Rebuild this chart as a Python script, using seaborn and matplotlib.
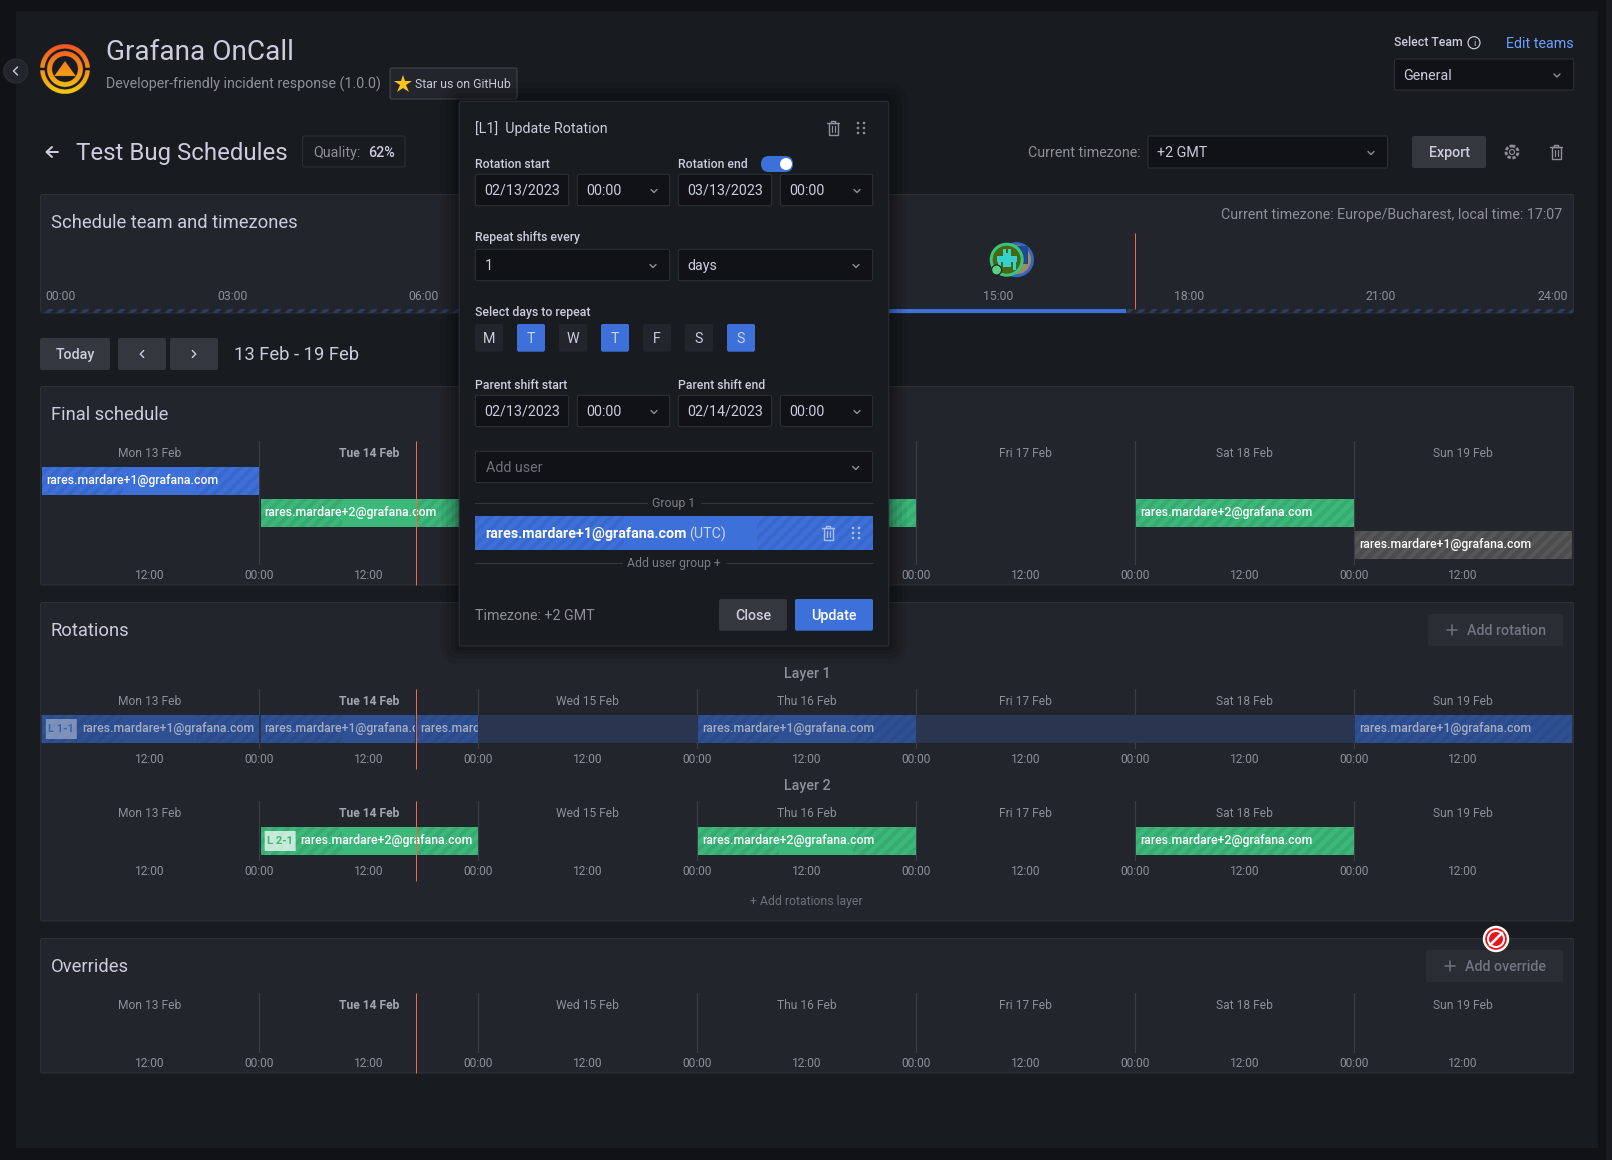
# Grafana OnCall schedule page, rebuilt with seaborn timelines
import numpy as np
import matplotlib
matplotlib.use("Agg")
import matplotlib.pyplot as plt
from matplotlib.patches import FancyBboxPatch, Circle, Rectangle
import seaborn as sns

# Week timeline data
DAY_LABELS = ["Mon 13 Feb", "Tue 14 Feb", "Wed 15 Feb", "Thu 16 Feb", "Fri 17 Feb", "Sat 18 Feb", "Sun 19 Feb"]
TODAY_INDEX = 1
NOW_DAY = 1.713
WEEK_TICKS = [0.5, 1, 1.5, 2, 2.5, 3, 3.5, 4, 4.5, 5, 5.5, 6, 6.5]
WEEK_TICK_LABELS = ["12:00", "00:00"] * 6 + ["12:00"]
USER_1 = "rares.mardare+1@grafana.com"
USER_2 = "rares.mardare+2@grafana.com"

FINAL_STARTS = [0, 1, 3, 5, 6]
FINAL_ENDS = [1, 2, 4, 6, 7]
FINAL_ROWS = [0, 1, 1, 1, 2]
FINAL_USERS = [USER_1, USER_2, USER_2, USER_2, USER_1]
FINAL_KINDS = ["blue", "green", "green", "green", "gray"]

LAYER1_STARTS = [0, 1, 1.713, 3, 6]
LAYER1_ENDS = [1, 1.713, 2, 4, 7]
LAYER2_STARTS = [1, 3, 5]
LAYER2_ENDS = [2, 4, 6]

# Timezone strip data
HOUR_TICKS = [0, 3, 6, 9, 12, 15, 18, 21, 24]
HOUR_LABELS = ["00:00", "03:00", "06:00", "09:00", "12:00", "15:00", "18:00", "21:00", "24:00"]
NOW_HOUR = 17.14
ONCALL_START = 8
ONCALL_END = 17

# Rotation form data
WEEKDAY_LETTERS = ["M", "T", "W", "T", "F", "S", "S"]
WEEKDAY_ACTIVE = [False, True, False, True, False, False, True]

W, H = 1612, 1160
DAY_PX = 218.9
TL_LEFT, TL_RIGHT = 40.6, 1572.6
HATCH = "////"

BG_OUTER = "#101216"
BG_MAIN = "#181b1f"
BG_PANEL = "#22252b"
BORDER = "#2e3137"
INPUT_BG = "#111217"
BUTTON = "#34373d"
TEXT = "#ccccdc"
MUTED = "#8e8f99"
BLUE = "#3d71d9"
GREEN = "#3cb87a"
NOW_COLOR = "#ee6a45"
GRID = "#3a3d44"
BAR_STYLE = {
    "blue": (BLUE, "#3868cb"),
    "green": (GREEN, "#37aa71"),
    "gray": ("#4c4c4c", "#575757"),
    "dim": ("#2f5194", "#2c4b8a"),
}

sns.set_theme(style="dark", rc={"hatch.linewidth": 2, "axes.grid": False})
plt.rcParams["font.family"] = ["Roboto", "DejaVu Sans"]

fig = plt.figure(figsize=(W / 144, H / 144), dpi=144, facecolor=BG_OUTER)


def overlay_axes(zorder):
    ax = fig.add_axes([0, 0, 1, 1], zorder=zorder)
    ax.set_xlim(0, W)
    ax.set_ylim(H, 0)
    ax.axis("off")
    return ax


def box(ax, x0, y0, x1, y1, fc, ec="none", r=2, lw=0.5, **kw):
    patch = FancyBboxPatch((x0, y0), x1 - x0, y1 - y0, boxstyle=f"round,pad=0,rounding_size={r}",
                           fc=fc, ec=ec, lw=lw, **kw)
    ax.add_patch(patch)
    return patch


def label(ax, x, y, s, px=14, color=TEXT, weight="normal", ha="left", **kw):
    # small text renders a touch narrower here than in the browser
    size = px * 0.51 if px < 20 else px * 0.5
    return ax.text(x, y - 0.8, s, fontsize=size, color=color, fontweight=weight, ha=ha, va="center_baseline", **kw)


def chevron(ax, x, y, size=3, color=MUTED, direction="down"):
    if direction == "down":
        xs, ys = [x - size, x, x + size], [y - size / 2, y + size / 2, y - size / 2]
    elif direction == "left":
        xs, ys = [x + size / 2, x - size / 2, x + size / 2], [y - size, y, y + size]
    else:
        xs, ys = [x - size / 2, x + size / 2, x - size / 2], [y - size, y, y + size]
    ax.plot(xs, ys, color=color, lw=0.7, solid_capstyle="round")


def trash(ax, x, y, color=MUTED):
    ax.plot([x - 6, x + 6], [y - 5, y - 5], color=color, lw=0.7)
    ax.plot([x - 2, x - 2, x + 2, x + 2], [y - 5, y - 7, y - 7, y - 5], color=color, lw=0.7)
    ax.add_patch(Rectangle((x - 4.5, y - 5), 9, 12, fc="none", ec=color, lw=0.7))
    ax.plot([x - 1.5, x - 1.5], [y - 2, y + 4], color=color, lw=0.6)
    ax.plot([x + 1.5, x + 1.5], [y - 2, y + 4], color=color, lw=0.6)


def drag_dots(ax, x, y, color=MUTED):
    for dx in (-3, 3):
        for dy in (-5, 0, 5):
            ax.add_patch(Circle((x + dx, y + dy), 1.3, fc=color, ec="none"))


def select(ax, x0, y0, x1, y1, s, color=TEXT, chevron_x=None, text_dy=0):
    box(ax, x0, y0, x1, y1, INPUT_BG, BORDER)
    label(ax, x0 + 9, (y0 + y1) / 2 + text_dy, s, 14, color)
    if chevron_x is not None:
        chevron(ax, chevron_x, (y0 + y1) / 2 + 1, color=MUTED)


def plus(ax, x, y, color):
    ax.plot([x - 5, x + 5], [y, y], color=color, lw=0.8)
    ax.plot([x, x], [y - 5, y + 5], color=color, lw=0.8)


page = overlay_axes(0)

# page chrome
page.add_patch(Rectangle((16, 11), 1582, 1137, fc=BG_MAIN, ec="none"))
page.add_patch(Rectangle((1606, 0), 6, H, fc=BG_MAIN, ec="none"))
page.add_patch(Circle((15.7, 71), 12, fc=BG_PANEL, ec=BORDER, lw=0.5))
chevron(page, 15.5, 71, size=4, color=TEXT, direction="left")

# logo as a small raster with the orange to yellow gradient
yy, xx = np.mgrid[-25:25:200j, -25:25:200j]
rad = np.hypot(xx, yy)
logo_mask = ((rad < 25) & (rad > 20.5)) | ((rad < 18) & (rad > 13)) | ((yy < 7) & (yy > -8) & (np.abs(xx) < (yy + 8) * 0.72))
logo_mask &= ~((np.abs(yy) < 1.2) & (np.abs(xx) > 19))
logo = np.zeros((200, 200, 4))
logo[..., 0] = 0.96
logo[..., 1] = np.linspace(0.33, 0.8, 200)[:, None]
logo[..., 2] = np.linspace(0.14, 0.05, 200)[:, None]
logo[..., 3] = logo_mask
page.imshow(logo, extent=(40, 90, 94, 44), aspect="auto", zorder=2)
page.set_xlim(0, W)
page.set_ylim(H, 0)

label(page, 106.5, 50, "Grafana OnCall", 28)
label(page, 106.5, 83, "Developer-friendly incident response (1.0.0)", 14, MUTED)
box(page, 390, 68, 517, 99, BG_PANEL, "#44474d")
page.plot(403, 84, marker="*", ms=9.5, color="#fcc419", mew=0)
label(page, 415, 84, "Star us on GitHub", 12, TEXT)

page.plot([47, 58], [152, 152], color=TEXT, lw=1)
page.plot([52, 46.5, 52], [147, 152, 157], color=TEXT, lw=1)
label(page, 76, 152, "Test Bug Schedules", 24)
box(page, 302.5, 136, 405, 167, "none", BORDER)
label(page, 313, 152, "Quality:", 14, MUTED)
label(page, 368.6, 152, "62%", 14, TEXT, "medium")

label(page, 1394, 42, "Select Team", 12, TEXT, "medium")
page.add_patch(Circle((1474, 42.7), 6, fc="none", ec=TEXT, lw=0.6))
label(page, 1474, 43.5, "i", 9, TEXT, ha="center")
label(page, 1506, 43.5, "Edit teams", 14, "#6e9fff")
select(page, 1394.5, 59, 1573.7, 90, "General", chevron_x=1557, text_dy=1)

label(page, 1028, 152, "Current timezone:", 14, MUTED)
select(page, 1148, 136, 1387.5, 168, "+2 GMT", chevron_x=1371)
box(page, 1412, 136, 1486, 168, BUTTON)
label(page, 1449, 152.5, "Export", 14, TEXT, "medium", ha="center")
page.add_patch(Circle((1512, 152), 6, fc="none", ec=MUTED, lw=1.4, ls=(0, (1.2, 0.6))))
page.add_patch(Circle((1512, 152), 2.5, fc="none", ec=MUTED, lw=0.6))
trash(page, 1556, 152)

# panels
box(page, 40.6, 194.5, 1573.5, 313, BG_PANEL, BORDER)
box(page, 40.6, 386.5, 1573.5, 585, BG_PANEL, BORDER)
box(page, 40.6, 602.5, 1573.5, 921, BG_PANEL, BORDER)
box(page, 40.6, 938.5, 1573.5, 1073, BG_PANEL, BORDER)

label(page, 51.4, 222, "Schedule team and timezones", 18)
label(page, 1562.5, 214, "Current timezone: Europe/Bucharest, local time: 17:07", 14, MUTED, ha="right")

box(page, 40, 338, 110, 370, BUTTON)
label(page, 75, 354.5, "Today", 14, TEXT, "medium", ha="center")
box(page, 118, 338, 166, 370, BUTTON)
chevron(page, 142, 354, size=3.5, color=TEXT, direction="left")
box(page, 170, 338, 218, 370, BUTTON)
chevron(page, 194, 354, size=3.5, color=TEXT, direction="right")
label(page, 234, 354, "13 Feb - 19 Feb", 18)

label(page, 51.4, 413.5, "Final schedule", 18)
label(page, 50.6, 630, "Rotations", 18)
label(page, 50.6, 966, "Overrides", 18)
label(page, 807, 673.5, "Layer 1", 14, MUTED, "medium", ha="center")
label(page, 807, 785.5, "Layer 2", 14, MUTED, "medium", ha="center")
label(page, 806, 900.5, "+ Add rotations layer", 12, "#6f717a", ha="center")

box(page, 1428, 614, 1563, 646, "#2a2d33")
plus(page, 1452, 630, "#6c7078")
label(page, 1467, 630, "Add rotation", 14, "#70757f", "medium")
box(page, 1426, 950, 1563, 982, "#2a2d33")
plus(page, 1450, 966, "#6c7078")
label(page, 1465, 966, "Add override", 14, "#70757f", "medium")

# avatars on the timezone strip
page.add_patch(Circle((1016.5, 259.7), 16, fc="#a08a60", ec="#3565c6", lw=1.5, zorder=3))
page.add_patch(Rectangle((1012, 246), 16, 18, fc="#1f4a90", ec="none", zorder=3))
page.add_patch(Circle((1006.7, 259.7), 15.5, fc="#46690f", ec="#3cc47c", lw=1.5, zorder=4))
for dx, dy, bw, bh in [(-4, -11, 3, 5), (1, -11, 3, 5), (-4, -7, 8, 3), (-10, -4, 20, 6), (-4, 2, 8, 5), (-9, 2, 3, 8), (6, 2, 3, 8)]:
    page.add_patch(Rectangle((1006.7 + dx, 259.7 + dy), bw, bh, fc="#38cfd0", ec="none", zorder=5))
page.add_patch(Circle((996.6, 270), 5, fc="#5ccf86", ec="#1c2a22", lw=0.6, zorder=6))

# timezone strip
tz_top, tz_bottom = 233, 313
tz = fig.add_axes([TL_LEFT / W, 1 - tz_bottom / H, (TL_RIGHT - TL_LEFT) / W, (tz_bottom - tz_top) / H], zorder=1)
tz.patch.set_visible(False)
sns.barplot(x=[24], y=[78], orient="y", native_scale=True, width=4, color=BG_PANEL, saturation=1,
            errorbar=None, hatch=HATCH, edgecolor="#2a3c60", linewidth=0, ax=tz)
sns.barplot(x=[ONCALL_END - ONCALL_START], y=[78], orient="y", native_scale=True, width=4, color=BLUE,
            saturation=1, errorbar=None, left=ONCALL_START, linewidth=0, ax=tz)
tz.vlines(NOW_HOUR, 0, 76, color=NOW_COLOR, lw=0.5)
tz.set_xlim(0, 24)
tz.set_ylim(tz_bottom - tz_top, 0)
tz.set(xlabel="", ylabel="", xticks=[], yticks=[])
sns.despine(ax=tz, left=True, bottom=True)
for hour, text in zip(HOUR_TICKS, HOUR_LABELS):
    if hour == HOUR_TICKS[0]:
        tz.annotate(text, (hour, 61.7), xytext=(5, 0), textcoords="offset pixels", color=MUTED,
                    fontsize=6.1, ha="left", va="center_baseline")
    elif hour == HOUR_TICKS[-1]:
        tz.annotate(text, (hour, 61.7), xytext=(-4.5, 0), textcoords="offset pixels", color=MUTED,
                    fontsize=6.1, ha="right", va="center_baseline")
    else:
        tz.text(hour, 61.7, text, color=MUTED, fontsize=6.1, ha="center", va="center_baseline")


def add_stripes(ax, y, height, x0, x1, color):
    if x0 >= 5:
        spans = [(x0, x1)]
    else:
        spans = [(x0, min(x1, x0 + 81 / DAY_PX))]
        if x1 > x0 + 155 / DAY_PX:
            spans.append((x0 + 155 / DAY_PX, x1))
    for a, b in spans:
        ax.barh(y, b - a, height, left=a, facecolor="none", edgecolor=color, hatch=HATCH, linewidth=0)


def draw_timeline(top, height, starts=(), ends=(), rows=(), users=(), kinds=(), text_color="white",
                  tag=None, tag_color=None, track=None):
    ax = fig.add_axes([TL_LEFT / W, 1 - (top + height) / H, (TL_RIGHT - TL_LEFT) / W, height / H], zorder=1)
    ax.patch.set_visible(False)
    for day in range(1, 7):
        ax.axvline(day, color=GRID, lw=0.6, zorder=0.5)
    if track:
        sns.barplot(x=[7], y=[40], orient="y", native_scale=True, width=28, color=track, saturation=1,
                    errorbar=None, linewidth=0, ax=ax)
    for i, (start, end, row, user, kind) in enumerate(zip(starts, ends, rows, users, kinds)):
        y = 40 + row * 32
        x0, x1 = start + 1.2 / DAY_PX, end - 0.2 / DAY_PX
        base, stripe = BAR_STYLE[kind]
        sns.barplot(x=[x1 - x0], y=[y], orient="y", native_scale=True, width=28, color=base, saturation=1,
                    errorbar=None, left=x0, linewidth=0, ax=ax)
        bar = ax.patches[-1]
        add_stripes(ax, y, 28, x0, x1, stripe)
        text_x = x0 + 4 / DAY_PX
        if tag and i == 0:
            box(ax, x0 + 4 / DAY_PX, y - 10, x0 + 35 / DAY_PX, y + 10, "#ffffff", alpha=0.72 if kind == "green" else 0.38,
                r=0.008)
            ax.text(x0 + 19.5 / DAY_PX, y - 1, tag, fontsize=5.6, color=tag_color, fontweight="bold", ha="center",
                    va="center_baseline", zorder=3)
            text_x = x0 + 40 / DAY_PX
        t = ax.text(text_x, y - 2, user, fontsize=6.15, color=text_color, fontweight="medium", va="center_baseline", zorder=3)
        t.set_clip_on(True)
        t.set_clip_path(bar)
    for d, day_label in enumerate(DAY_LABELS):
        today = d == TODAY_INDEX
        ax.text(d + 0.5, 10.8, day_label, fontsize=6, color="#a5a6b0" if today else MUTED,
                fontweight="bold" if today else "normal", ha="center", va="center_baseline")
    ax.vlines(NOW_DAY, 0, height + 20, color=NOW_COLOR, lw=0.5, clip_on=False, zorder=4)
    ax.set_xlim(0, 7)
    ax.set_ylim(height, 0)
    ax.set(xlabel="", ylabel="", yticks=[])
    ax.set_xticks(WEEK_TICKS, WEEK_TICK_LABELS)
    ax.tick_params(axis="x", length=0, pad=2.1, labelsize=6, labelcolor=MUTED)
    sns.despine(ax=ax, left=True, bottom=True)
    return ax


draw_timeline(441, 124, FINAL_STARTS, FINAL_ENDS, FINAL_ROWS, FINAL_USERS, FINAL_KINDS)
draw_timeline(689, 60, LAYER1_STARTS, LAYER1_ENDS, [0] * 5, [USER_1] * 5, ["dim"] * 5, text_color="#a6adc0",
              tag="L 1-1", tag_color="#3d63ad", track="#2a3650")
draw_timeline(801, 60, LAYER2_STARTS, LAYER2_ENDS, [0] * 3, [USER_2] * 3, ["green"] * 3, tag="L 2-1", tag_color=GREEN)
draw_timeline(993, 60)

# rotation form on top of everything
modal = overlay_axes(5)
for grow, alpha in [(18, 0.06), (13, 0.08), (8, 0.1), (4, 0.14)]:
    box(modal, 459.3 - grow, 101.3 - grow, 888.7 + grow, 646 + grow, "black", alpha=alpha, r=grow)
box(modal, 459.3, 101.3, 888.7, 646, BG_MAIN, "#2a2d33", lw=0.6)

label(modal, 475.3, 127.7, "[L1]  Update Rotation", 14)
trash(modal, 833, 128)
drag_dots(modal, 861, 128)

label(modal, 475.3, 164, "Rotation start", 12, TEXT, "medium")
label(modal, 678.3, 164, "Rotation end", 12, TEXT, "medium")
box(modal, 761, 156, 793, 172, BLUE, r=8)
modal.add_patch(Circle((786, 164), 6, fc="white", ec="none"))

date_cols = [(475.3, 568.7), (678.3, 771.7)]
time_cols = [(577.3, 669.7, 654), (780.3, 872.7, 857)]
for (a, b), (c, d, e), date_text in zip(date_cols, time_cols, ["02/13/2023", "03/13/2023"]):
    select(modal, a, 174.3, b, 205.7, date_text)
    select(modal, c, 174.3, d, 205.7, "00:00", chevron_x=e)

label(modal, 475.3, 237, "Repeat shifts every", 12, TEXT, "medium")
select(modal, 475.3, 249.3, 669.7, 280.7, "1", chevron_x=653)
select(modal, 678.3, 249.3, 872.7, 280.7, "days", chevron_x=856)

label(modal, 475.3, 312, "Select days to repeat", 12, TEXT, "medium")
for i, (letter, active) in enumerate(zip(WEEKDAY_LETTERS, WEEKDAY_ACTIVE)):
    x0 = 475 + i * 42
    box(modal, x0, 324, x0 + 28, 351.7, BLUE if active else BG_PANEL)
    label(modal, x0 + 14, 338.5, letter, 14, "#c9d6f2" if active else TEXT, ha="center")

label(modal, 475.3, 385, "Parent shift start", 12, TEXT, "medium")
label(modal, 678.3, 385, "Parent shift end", 12, TEXT, "medium")
for (a, b), (c, d, e), date_text in zip(date_cols, time_cols, ["02/13/2023", "02/14/2023"]):
    select(modal, a, 395.3, b, 426.7, date_text)
    select(modal, c, 395.3, d, 426.7, "00:00", chevron_x=e)

box(modal, 475.3, 451.3, 872.7, 482.7, INPUT_BG, BORDER)
label(modal, 486, 467.5, "Add user", 14, "#6f717a")
chevron(modal, 855.7, 468)

label(modal, 673.5, 503, "Group 1", 12, "#7c7d87", ha="center")
modal.plot([475, 646.7], [502.7, 502.7], color=BUTTON, lw=0.6)
modal.plot([701, 872.7], [502.7, 502.7], color=BUTTON, lw=0.6)

modal.add_patch(Rectangle((475, 516), 398, 34, fc=BLUE, ec="none"))
modal.add_patch(Rectangle((475, 516), 149, 34, fc="none", ec="#3868cb", hatch=HATCH, lw=0))
modal.add_patch(Rectangle((757, 516), 116, 34, fc="none", ec="#3868cb", hatch=HATCH, lw=0))
label(modal, 485.3, 533, USER_1, 14, "white", "bold")
label(modal, 689, 533, "(UTC)", 14, "#c9d6f2")
trash(modal, 828, 533, color="#a9bfe9")
drag_dots(modal, 856, 533, color="#a9bfe9")

label(modal, 673.7, 563, "Add user group +", 12, "#7c7d87", ha="center")
modal.plot([475, 621.7], [562.7, 562.7], color=BUTTON, lw=0.6)
modal.plot([726, 873], [562.7, 562.7], color=BUTTON, lw=0.6)

label(modal, 475.3, 615, "Timezone: +2 GMT", 14, MUTED)
box(modal, 719, 599, 787, 630.7, BUTTON)
label(modal, 753, 615.5, "Close", 14, TEXT, "medium", ha="center")
box(modal, 795, 599, 873, 630.7, BLUE)
label(modal, 834, 615.5, "Update", 14, "white", "medium", ha="center")

# not-allowed cursor above the override button
modal.add_patch(Circle((1496, 939), 12, fc="#e8161c", ec="white", lw=1.2))
modal.add_patch(Circle((1496, 939), 8, fc="none", ec="white", lw=1))
modal.plot([1490, 1502], [945, 933], color="white", lw=1.3)

fig.savefig("out.png", dpi=144, facecolor=fig.get_facecolor())
